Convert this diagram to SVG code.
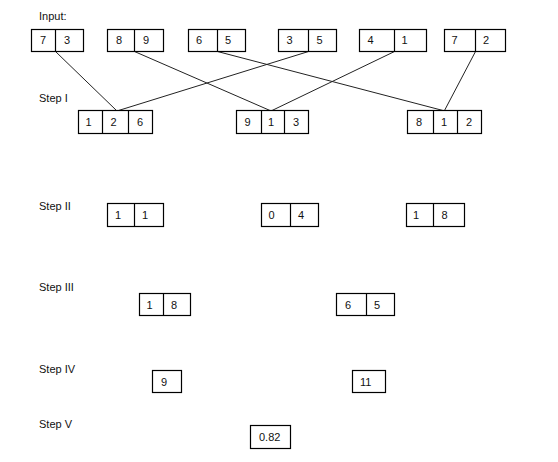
<svg xmlns="http://www.w3.org/2000/svg" width="558" height="462" viewBox="0 0 558 462">
<style>
rect{fill:#fff;stroke:#000;stroke-width:1.2}
.d{stroke:#000;stroke-width:1.2}
.c line{stroke:#222;stroke-width:1}
text{font-family:"Liberation Sans",Arial,sans-serif;font-size:11px;fill:#111}
</style>
<rect x="0" y="0" width="558" height="462" style="stroke:none"/>
<g id="labels">
<text x="39" y="20">Input:</text>
<text x="39" y="102">Step I</text>
<text x="39" y="210">Step II</text>
<text x="39" y="291">Step III</text>
<text x="39" y="373">Step IV</text>
<text x="39" y="428">Step V</text>
</g>
<g class="c" id="connectors">
<line x1="55.5" y1="51.5" x2="116.5" y2="110.5"/>
<line x1="308.5" y1="51.5" x2="118.5" y2="110.5"/>
<line x1="134.5" y1="51.5" x2="270" y2="110.5"/>
<line x1="394.5" y1="51.5" x2="272" y2="110.5"/>
<line x1="217.5" y1="51.5" x2="443" y2="110.5"/>
<line x1="475.5" y1="51.5" x2="444.5" y2="110.5"/>
</g>
<g id="in1"><rect x="31.5" y="29.5" width="52" height="22"/><line class="d" x1="55.5" y1="29.5" x2="55.5" y2="51.5"/><text x="40" y="44">7</text><text x="64" y="44">3</text></g>
<g id="in2"><rect x="107.5" y="29.5" width="56" height="22"/><line class="d" x1="134.5" y1="29.5" x2="134.5" y2="51.5"/><text x="116" y="44">8</text><text x="143" y="44">9</text></g>
<g id="in3"><rect x="188.5" y="29.5" width="57" height="22"/><line class="d" x1="217.5" y1="29.5" x2="217.5" y2="51.5"/><text x="196" y="44">6</text><text x="225" y="44">5</text></g>
<g id="in4"><rect x="278.5" y="29.5" width="58" height="22"/><line class="d" x1="308.5" y1="29.5" x2="308.5" y2="51.5"/><text x="286.5" y="44">3</text><text x="316.5" y="44">5</text></g>
<g id="in5"><rect x="359.5" y="29.5" width="67" height="22"/><line class="d" x1="394.5" y1="29.5" x2="394.5" y2="51.5"/><text x="367.5" y="44">4</text><text x="401.5" y="44">1</text></g>
<g id="in6"><rect x="444.5" y="29.5" width="61" height="22"/><line class="d" x1="475.5" y1="29.5" x2="475.5" y2="51.5"/><text x="451.5" y="44">7</text><text x="483" y="44">2</text></g>

<g id="s1a"><rect x="78.5" y="110.5" width="74" height="23"/><line class="d" x1="102.5" y1="110.5" x2="102.5" y2="133.5"/><line class="d" x1="128.5" y1="110.5" x2="128.5" y2="133.5"/><text x="85.5" y="126">1</text><text x="110.5" y="126">2</text><text x="137" y="126">6</text></g>
<g id="s1b"><rect x="236.5" y="110.5" width="72" height="23"/><line class="d" x1="261.5" y1="110.5" x2="261.5" y2="133.5"/><line class="d" x1="284.5" y1="110.5" x2="284.5" y2="133.5"/><text x="244.5" y="126">9</text><text x="268" y="126">1</text><text x="293" y="126">3</text></g>
<g id="s1c"><rect x="407.5" y="110.5" width="74" height="23"/><line class="d" x1="433.5" y1="110.5" x2="433.5" y2="133.5"/><line class="d" x1="457.5" y1="110.5" x2="457.5" y2="133.5"/><text x="416" y="126">8</text><text x="441" y="126">1</text><text x="466" y="126">2</text></g>

<g id="s2a"><rect x="107.5" y="203.5" width="56" height="23"/><line class="d" x1="134.5" y1="203.5" x2="134.5" y2="226.5"/><text x="115" y="218.5">1</text><text x="142" y="218.5">1</text></g>
<g id="s2b"><rect x="261.5" y="203.5" width="57" height="23"/><line class="d" x1="290.5" y1="203.5" x2="290.5" y2="226.5"/><text x="268.5" y="218.5">0</text><text x="298" y="218.5">4</text></g>
<g id="s2c"><rect x="406.5" y="203.5" width="58" height="23"/><line class="d" x1="433.5" y1="203.5" x2="433.5" y2="226.5"/><text x="413" y="218.5">1</text><text x="441.5" y="218.5">8</text></g>

<g id="s3a"><rect x="139.5" y="293.5" width="51" height="22"/><line class="d" x1="163.5" y1="293.5" x2="163.5" y2="315.5"/><text x="146.5" y="309">1</text><text x="171" y="309">8</text></g>
<g id="s3b"><rect x="336.5" y="293.5" width="58" height="22"/><line class="d" x1="366.5" y1="293.5" x2="366.5" y2="315.5"/><text x="345" y="309">6</text><text x="374" y="309">5</text></g>

<g id="s4a"><rect x="152.5" y="370.5" width="29" height="22"/><text x="161" y="386">9</text></g>
<g id="s4b"><rect x="352.5" y="370.5" width="33" height="22"/><text x="360" y="386">11</text></g>

<g id="s5"><rect x="250.5" y="425.5" width="40" height="23"/><text x="259" y="441">0.82</text></g>
</svg>
